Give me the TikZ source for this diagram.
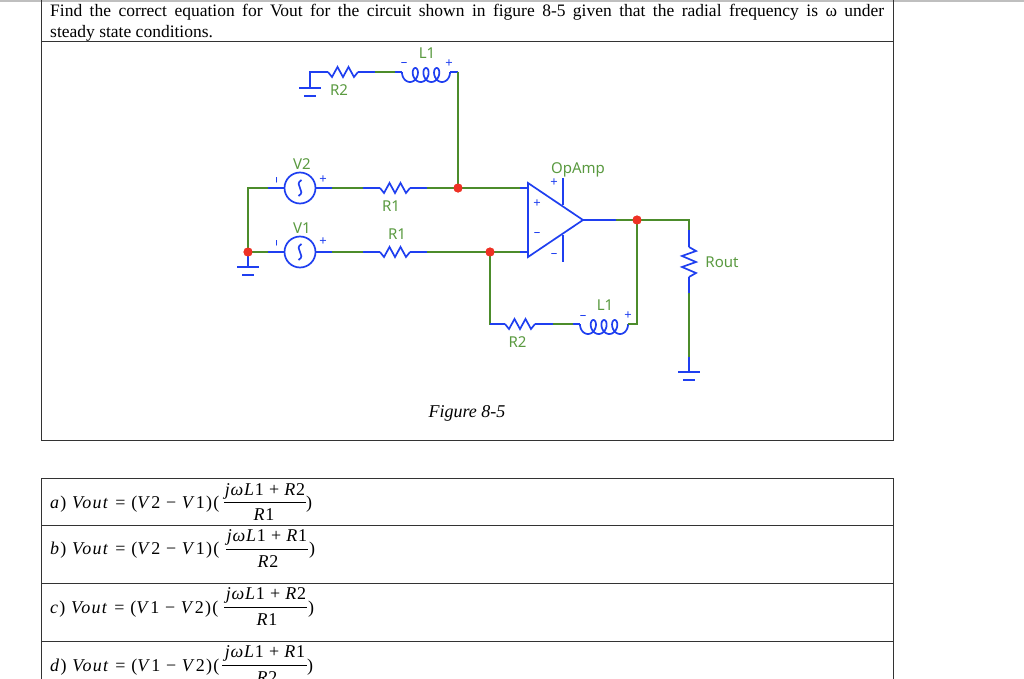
\documentclass[tikz,border=0pt]{standalone}
\usepackage{fontspec}
\setmainfont{Liberation Serif}
\newfontfamily\labelfont{Noto Sans}
\newfontfamily\eqfont[LetterSpace=4]{Liberation Serif}
\newfontfamily\eqleftfont[LetterSpace=7]{Liberation Serif}
\definecolor{wiregreen}{HTML}{4C8C2B}
\definecolor{partblue}{HTML}{1F3FF0}
\definecolor{labelgreen}{HTML}{5A9A40}
\definecolor{dotred}{HTML}{EE3124}
\definecolor{framegray}{HTML}{333333}
\newcommand{\im}[1]{\textit{#1}}
\tikzset{
  wire/.style={draw=wiregreen,line width=1.7pt},
  part/.style={draw=partblue,line width=1.7pt},
  frame/.style={draw=framegray,line width=0.9pt},
  junction/.style={circle,fill=dotred,minimum size=9pt,inner sep=0pt},
  partname/.style={text=labelgreen,font=\labelfont\fontsize{15}{17}\selectfont,inner sep=0pt},
  polarity/.style={text=partblue,font=\labelfont\bfseries\fontsize{13}{13}\selectfont,inner sep=0pt},
  headline/.style={anchor=base west,inner sep=0pt,font=\fontsize{17.5}{19}\selectfont},
  eqtext/.style={anchor=base west,inner sep=0pt,font=\eqleftfont\fontsize{18}{20}\selectfont},
  eqfrac/.style={anchor=base,inner sep=0pt,font=\eqfont\fontsize{18}{20}\selectfont},
  fracbar/.style={draw=black,line width=0.7pt},
  source/.style={circle,draw=partblue,line width=1.7pt,minimum size=31pt,inner sep=0pt},
  resistorpart/.pic={
    \draw[part,line join=miter] (0,0)--(4,5)--(9.5,-5)--(15,5)--(20.5,-5)--(26,5)--(30,0);
  },
  inductorpart/.pic={
    \draw[part] plot[domain=1.13:24,samples=160] ({1.7*(\x-12.566)-5*sin(deg(\x))+24},{3-7*cos(deg(\x))});
  },
  groundpart/.pic={
    \draw[part] (-11,0)--(11,0);
    \draw[part] (-6,8)--(6,8);
  },
  wave/.pic={
    \draw[part] (1.5,-8) .. controls (-7,-3) and (7,3) .. (-1.5,8);
  }
}
\begin{document}
\begin{tikzpicture}[x=1pt,y=-1pt]
\useasboundingbox (0,0) rectangle (1024,679);
\fill[white] (0,0) rectangle (1024,679);
\fill[black!25] (0,0) rectangle (1024,2);

% frames
\draw[frame] (41,0)--(41,440)--(893,440)--(893,0);
\draw[frame] (41,41)--(893,41);
\draw[frame] (41,679)--(41,478)--(893,478)--(893,679);
\draw[frame] (41,525)--(893,525);
\draw[frame] (41,583)--(893,583);
\draw[frame] (41,641)--(893,641);

% heading
\node[headline] (h1) at (50,17) {\makebox[834pt][s]{Find the correct equation for Vout for the circuit shown in figure 8-5 given that the radial frequency is ω under}};
\node[headline] (h2) at (50,38) {steady state conditions.};
\node[anchor=center,inner sep=0pt,font=\itshape\fontsize{18}{20}\selectfont] (cap) at (467,413) {Figure 8-5};

% coordinates
\coordinate (gt) at (310,72);
\coordinate (gtb) at (310,88);
\coordinate (r2a) at (328,72);
\coordinate (r2b) at (358,72);
\coordinate (r2c) at (375,72);
\coordinate (l1g) at (395,72);
\coordinate (l1a) at (402,72);
\coordinate (l1b) at (450,72);
\coordinate (l1c) at (458,72);
\node[junction] (ju) at (458,188) {};
\node[junction] (jl) at (248,252) {};
\node[junction] (jm) at (490,252) {};
\node[junction] (jo) at (637,220) {};
\node[source] (v2) at (300,188) {};
\node[source] (v1) at (300,252) {};
\coordinate (cnr) at (248,188);

% top branch
\draw[part] (gtb)--(gt)--(r2a);
\pic at (r2a) {resistorpart};
\draw[part] (r2b)--(r2c);
\draw[wire] (r2c)--(l1g);
\draw[part] (l1g)--(l1a);
\pic at (l1a) {inductorpart};
\draw[part] (l1b)--(l1c);
\draw[wire] (l1c)--(ju.center);
\pic at (gtb) {groundpart};

% sources
\pic at (v2) {wave};
\pic at (v1) {wave};
\draw[wire] (jl.center)--(cnr)--(268,188);
\draw[part] (268,188)--(v2.west);
\draw[part] (v2.east)--(332,188);
\draw[wire] (332,188)--(363,188);
\draw[part] (363,188)--(380,188);
\pic at (380,188) {resistorpart};
\draw[part] (410,188)--(427,188);
\draw[wire] (427,188)--(ju.center);
\draw[wire] (jl.center)--(268,252);
\draw[part] (268,252)--(v1.west);
\draw[part] (v1.east)--(332,252);
\draw[wire] (332,252)--(363,252);
\draw[part] (363,252)--(380,252);
\pic at (380,252) {resistorpart};
\draw[part] (410,252)--(427,252);
\draw[wire] (427,252)--(jm.center);
\draw[part] (jl.center)--(248,267);
\pic at (248,267) {groundpart};

% op amp
\coordinate (oa) at (528,183);
\coordinate (ob) at (528,257);
\coordinate (ot) at (583,220);
\draw[wire] (ju.center)--(520,188);
\draw[part] (520,188)--(528,188);
\draw[wire] (jm.center)--(520,252);
\draw[part] (520,252)--(528,252);
\draw[part,line join=miter] (oa)--(ot)--(ob)--cycle;
\draw[part] (563,178)--(563,205);
\draw[part] (563,235)--(563,262);
\draw[part] (ot)--(616,220);
\draw[wire] (616,220)--(jo.center);
\draw[wire] (jo.center)--(689,220)--(689,230);

% load
\draw[part] (689,230)--(689,247);
\draw[part,line join=miter] (689,247)--(696,251)--(682,256)--(696,262)--(682,267)--(696,273)--(689,277);
\draw[part] (689,277)--(689,293);
\draw[wire] (689,293)--(689,357);
\draw[part] (689,357)--(689,372);
\pic at (689,372) {groundpart};

% feedback
\draw[wire,line cap=rect] (jm.center)--(490,324);
\draw[part] (490,324)--(505,324);
\pic at (505,324) {resistorpart};
\draw[part] (535,324)--(553,324);
\draw[wire] (553,324)--(573,324);
\draw[part] (573,324)--(580,324);
\pic at (580,324) {inductorpart};
\draw[wire] (628,324)--(637,324)--(jo.center);

% junction dots on top
\node[junction] at (ju) {};
\node[junction] at (jl) {};
\node[junction] at (jm) {};
\node[junction] at (jo) {};

% labels
\node[partname] (n1) at (427,53) {L1};
\node[partname] (n2) at (339,90) {R2};
\node[partname] (n3) at (302,164) {V2};
\node[partname] (n4) at (302,228) {V1};
\node[partname] (n5) at (391,206) {R1};
\node[partname] (n6) at (397,234) {R1};
\node[partname] (n7) at (578,170) {OpAmp};
\node[partname] (n8) at (722,262) {Rout};
\node[partname] (n9) at (605,305) {L1};
\node[partname] (n10) at (517.5,342) {R2};

% polarity
\node[polarity] (p1) at (404,65) {–};
\node[polarity] (p2) at (449,64) {+};
\node[polarity,rotate=90] (p3) at (278,180) {–};
\node[polarity] (p4) at (323,180) {+};
\node[polarity,rotate=90] (p5) at (278,243) {–};
\node[polarity] (p6) at (323,242) {+};
\node[polarity] (p7) at (554,183) {+};
\node[polarity] (p8) at (554,256) {–};
\node[polarity] (p9) at (537,204) {+};
\node[polarity] (p10) at (537,235) {–};
\node[polarity] (p11) at (583,318) {–};
\node[polarity] (p12) at (628,316) {+};

% equations
\draw[fracbar] (224,502)--(306,502);
\node[eqtext] (ea) at (50,508) {\im{a}) \im{Vout} = (\im{V}2 − \im{V}1)(};
\node[eqfrac] (ean) at (265,495) {\im{jωL}1 + \im{R}2};
\node[eqfrac] (ead) at (264,520) {\im{R}1};
\node[eqtext] (eac) at (306,508) {)};

\draw[fracbar] (226,549)--(308,549);
\node[eqtext] (eb) at (50,554) {\im{b}) \im{Vout} = (\im{V}2 − \im{V}1)(};
\node[eqfrac] (ebn) at (267,541) {\im{jωL}1 + \im{R}1};
\node[eqfrac] (ebd) at (268,567) {\im{R}2};
\node[eqtext] (ebc) at (309,554) {)};

\draw[fracbar] (224,607)--(307,607);
\node[eqtext] (ec) at (50,613) {\im{c}) \im{Vout} = (\im{V}1 − \im{V}2)(};
\node[eqfrac] (ecn) at (266,599) {\im{jωL}1 + \im{R}2};
\node[eqfrac] (ecd) at (267,625) {\im{R}1};
\node[eqtext] (ecc) at (308,613) {)};

\draw[fracbar] (222,665)--(307,665);
\node[eqtext] (ed) at (50,671) {\im{d}) \im{Vout} = (\im{V}1 − \im{V}2)(};
\node[eqfrac] (edn) at (265,657) {\im{jωL}1 + \im{R}1};
\node[eqfrac] (edd) at (267,683) {\im{R}2};
\node[eqtext] (edc) at (307,671) {)};
\end{tikzpicture}
\end{document}
